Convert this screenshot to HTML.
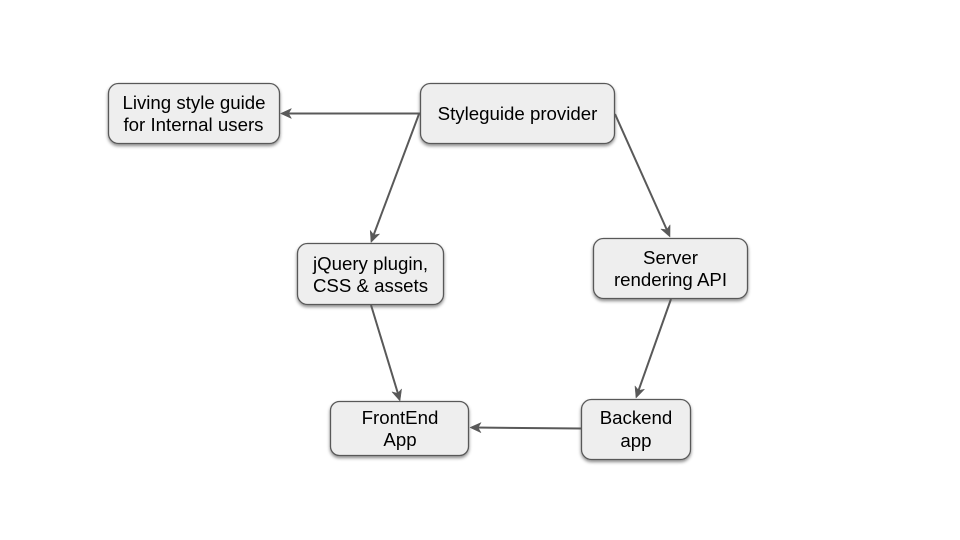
<!DOCTYPE html>
<html>
<head>
<meta charset="utf-8">
<style>
html,body{margin:0;padding:0;background:#fff;width:960px;height:540px;overflow:hidden}
text{font-family:"Liberation Sans",Arial,sans-serif;font-size:18.67px;fill:#000;text-anchor:middle}
</style>
</head>
<body>
<svg width="960" height="540" viewBox="0 0 960 540" xmlns="http://www.w3.org/2000/svg">
<defs>
<filter id="s" x="-10%" y="-10%" width="120%" height="130%">
<feDropShadow dx="0" dy="2" stdDeviation="1.5" flood-color="#000" flood-opacity="0.45"/>
</filter>
</defs>
<g fill="#eeeeee" stroke="#595959" stroke-width="1.3" filter="url(#s)">
<rect x="108.5" y="83.5" width="171" height="60" rx="10"/>
<rect x="420.5" y="83.5" width="194" height="60" rx="10"/>
<rect x="297.5" y="243.5" width="146" height="61" rx="10"/>
<rect x="593.5" y="238.5" width="154" height="60" rx="10"/>
<rect x="330.5" y="401.5" width="138" height="54" rx="9"/>
<rect x="581.5" y="399.5" width="109" height="60" rx="10"/>
</g>
<g stroke="#595959" stroke-width="2" fill="none">
<path d="M420 113.5H285"/>
<path d="M419 114L372.500 238"/>
<path d="M615 114L668.500 233.500"/>
<path d="M671 299L637.300 394"/>
<path d="M371 305L399 397"/>
<path d="M581 428.500L474 427.500"/>
</g>
<g fill="#595959" stroke="#595959" stroke-width="0.5" stroke-linejoin="round">
<path d="M0 0L-11 -5L-8 0L-11 5Z" transform="translate(280.500,113.500) rotate(180)"/>
<path d="M0 0L-11 -5L-8 0L-11 5Z" transform="translate(371,242.500) rotate(110.600)"/>
<path d="M0 0L-11 -5L-8 0L-11 5Z" transform="translate(670,237) rotate(65.900)"/>
<path d="M0 0L-11 -5L-8 0L-11 5Z" transform="translate(636,398) rotate(109.500)"/>
<path d="M0 0L-11 -5L-8 0L-11 5Z" transform="translate(400,401) rotate(73.200)"/>
<path d="M0 0L-11 -5L-8 0L-11 5Z" transform="translate(470,427.500) rotate(180.500)"/>
</g>
<text x="194" y="109">Living style guide</text>
<text x="193.500" y="131">for Internal users</text>
<text x="517.500" y="120">Styleguide provider</text>
<text x="370.500" y="270">jQuery plugin,</text>
<text x="370.500" y="292">CSS &amp; assets</text>
<text x="670.500" y="264">Server</text>
<text x="670.500" y="286">rendering API</text>
<text x="400" y="424">FrontEnd</text>
<text x="400" y="446">App</text>
<text x="636" y="424">Backend</text>
<text x="636" y="447">app</text>
</svg>
</body>
</html>
